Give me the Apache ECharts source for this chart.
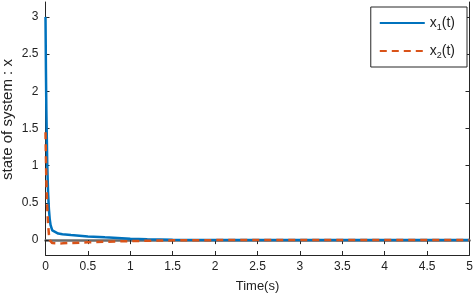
<!DOCTYPE html>
<html><head><meta charset="utf-8">
<script src="https://cdn.jsdelivr.net/npm/echarts@6/dist/echarts.min.js"></script>
<style>html,body{margin:0;padding:0;background:#fff}#c{width:474px;height:294px}</style>
</head><body><div id="c"></div>
<script>
const time = [0, 0.005, 0.01, 0.02, 0.03, 0.04, 0.05, 0.06, 0.08, 0.1, 0.15, 0.2, 0.3, 0.5, 0.7, 1.0, 1.2, 1.5, 2.0, 2.5, 3.0, 3.5, 4.0, 4.5, 5.0];
const x1 = [3.0, 2.3, 1.75, 1.05, 0.65, 0.42, 0.28, 0.2, 0.13, 0.105, 0.088, 0.078, 0.068, 0.05, 0.037, 0.02, 0.012, 0.005, 0.001, 0, 0, 0, 0, 0, 0];
const x2 = [1.45, 1.1, 0.8, 0.45, 0.22, 0.08, 0.0, -0.025, -0.04, -0.045, -0.045, -0.043, -0.038, -0.03, -0.022, -0.013, -0.008, -0.003, 0, 0, 0, 0, 0, 0, 0];
const xTicks = [0, 0.5, 1, 1.5, 2, 2.5, 3, 3.5, 4, 4.5, 5];
const yTicks = [0, 0.5, 1, 1.5, 2, 2.5, 3];
const seriesNames = ['x1(t)', 'x2(t)'];

const pairs = arr => time.map((t, i) => [t, arr[i]]);
const font = 'Liberation Sans, Arial, sans-serif';
const axisCommon = {
  axisLine: {show: true, onZero: false, lineStyle: {color: '#262626', width: 1}},
  axisTick: {show: true, inside: true, length: 4, lineStyle: {color: '#262626'}},
  splitLine: {show: false}
};
const chart = echarts.init(document.getElementById('c'), null, {renderer: 'canvas'});
chart.setOption({
  animation: false,
  backgroundColor: '#fff',
  grid: {left: 45.5, right: 4.5, top: 2, bottom: 39, containLabel: false, outerBoundsMode: 'none'},
  legend: {
    orient: 'vertical', right: 7, top: 7,
    data: seriesNames,
    itemWidth: 45, itemHeight: 14, itemGap: 12,
    itemStyle: {opacity: 0},
    borderColor: '#262626', borderWidth: 1, padding: [9, 12, 7, 8],
    backgroundColor: '#fff',
    formatter: n => '{a|x}{s|' + n[1] + '}{a|(t)}',
    textStyle: {
      fontFamily: font, color: '#222',
      rich: {
        a: {fontSize: 14, fontFamily: font, color: '#222'},
        s: {fontSize: 9, fontFamily: font, color: '#222', padding: [9, 0, 0, 0]}
      }
    }
  },
  xAxis: [{
    type: 'value', min: 0, max: 5, position: 'bottom',
    name: 'Time(s)', nameLocation: 'middle', nameGap: 25, nameMoveOverlap: false,
    nameTextStyle: {fontFamily: font, fontSize: 13, color: '#222'},
    ...axisCommon,
    axisTick: {...axisCommon.axisTick, customValues: xTicks},
    axisLabel: {customValues: xTicks, fontFamily: font, fontSize: 12, color: '#222', margin: 6}
  }, {
    type: 'value', min: 0, max: 5, position: 'top',
    ...axisCommon,
    axisLine: {show: true, lineStyle: {color: '#6a6a6a', width: 2.5}},
    axisTick: {...axisCommon.axisTick, customValues: xTicks},
    axisLabel: {show: false}
  }],
  yAxis: [{
    type: 'value', min: -0.2, max: 3.2, position: 'left',
    name: 'state of system : x', nameLocation: 'middle', nameGap: 30, nameMoveOverlap: false,
    nameTextStyle: {fontFamily: font, fontSize: 15, color: '#222', padding: [0, 0, 0, 18]},
    ...axisCommon,
    axisTick: {...axisCommon.axisTick, customValues: yTicks},
    axisLabel: {customValues: yTicks, fontFamily: font, fontSize: 12, color: '#222', margin: 7}
  }, {
    type: 'value', min: -0.2, max: 3.2, position: 'right',
    ...axisCommon,
    axisTick: {...axisCommon.axisTick, customValues: yTicks},
    axisLabel: {show: false}
  }],
  series: [{
    name: seriesNames[0], type: 'line', data: pairs(x1), showSymbol: false, symbol: 'none',
    lineStyle: {color: '#0072BD', width: 2.5}, itemStyle: {color: '#0072BD'}, z: 2
  }, {
    name: seriesNames[1], type: 'line', data: pairs(x2), showSymbol: false, symbol: 'none',
    lineStyle: {color: '#D95319', width: 2.5, type: [7, 5]}, itemStyle: {color: '#D95319'}, z: 3
  }]
});
</script></body></html>
